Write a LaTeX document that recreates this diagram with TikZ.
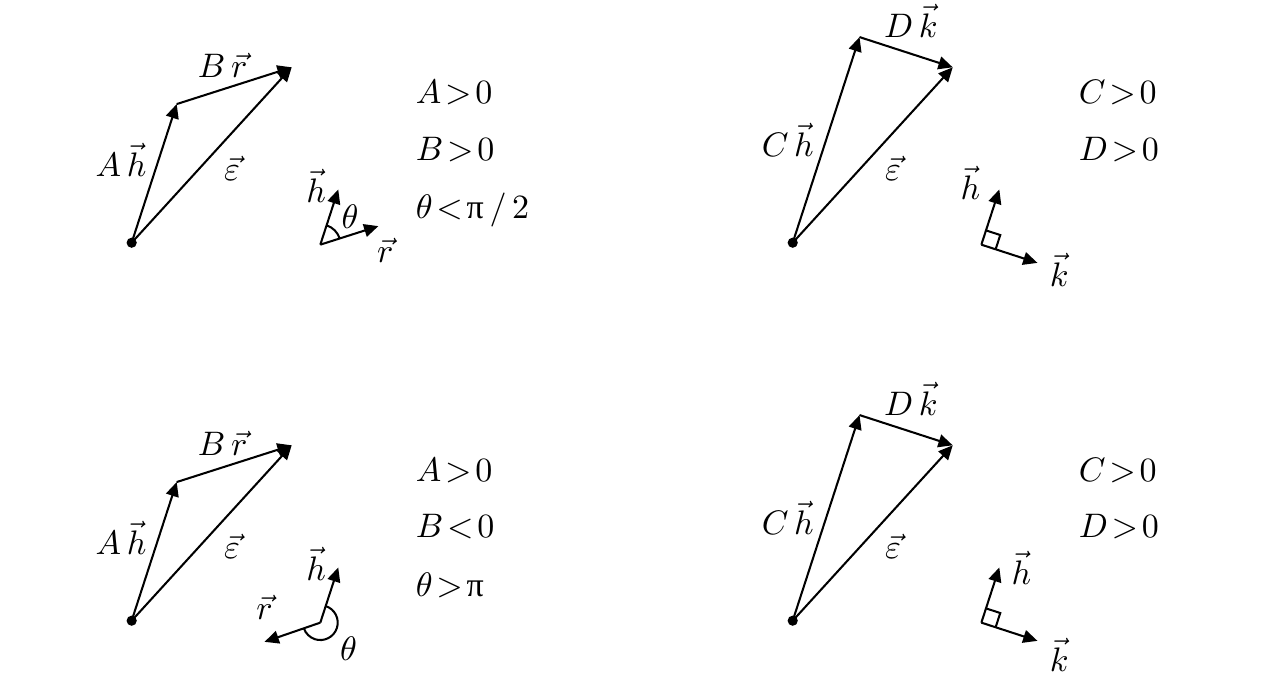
\documentclass[tikz,border=0pt]{standalone}
\usepackage{amsmath,amssymb}
\usepackage{fontspec}
\newfontfamily\uprightgreek{Liberation Serif}
\newcommand{\uppival}{\mbox{\uprightgreek π}}
\usetikzlibrary{arrows.meta}

\tikzset{
    vec/.style={line width=0.6pt, -{Triangle[length=4.2pt,width=3.8pt]}},
    plain/.style={line width=0.6pt},
    cond/.style={anchor=base west, inner sep=0pt},
}

\begin{document}
\begin{tikzpicture}
    \useasboundingbox (0,0) rectangle (13.231,6.998);

    %%%%%%%%%%%%%%%%%%%%%%%%%%%%%%%%%%%%
    % top left: A > 0, B > 0
    %%%%%%%%%%%%%%%%%%%%%%%%%%%%%%%%%%%%
    \begin{scope}[shift={(1.361,4.489)}]
        \coordinate (o1) at (0,0);
        \coordinate (p1) at (72:1.507);
        \coordinate (e1) at (1.654,1.813);
        \fill (o1) circle (1.5pt);
        \draw[vec] (o1) -- (p1) node[pos=0.6,left] {$A\,\vec{h}$};
        \draw[vec] (p1) -- (e1) node[pos=0.4,above] {$B\,\vec{r}$};
        \draw[vec] (o1) -- (e1) node[midway,right,yshift=-4pt] {$\vec{\varepsilon}$};

        \coordinate (v1) at (1.95,-0.02);
        \path (v1) ++(72:0.6) coordinate (h1);
        \path (v1) ++(17.7:0.63) coordinate (r1);
        \draw[vec] (v1) -- (h1) node[left,yshift=1pt] {$\vec{h}$};
        \draw[vec] (v1) -- (r1) node[below,xshift=2pt] {$\vec{r}$};
        \draw[plain] (v1) ++(17.7:0.21) arc[start angle=17.7,end angle=72,radius=0.21];
        \path (v1) ++(43:0.42) node (th1) {$\theta$};

        \node[cond] (c1a) at (2.93,1.444) {$A\!>\!0$};
        \node[cond] (c1b) at (2.93,0.855) {$B\!>\!0$};
        \node[cond] (c1c) at (2.93,0.255) {$\theta\!<\!\uppival\,/\,2$};
    \end{scope}

    %%%%%%%%%%%%%%%%%%%%%%%%%%%%%%%%%%%%
    % top right: C > 0, D > 0
    %%%%%%%%%%%%%%%%%%%%%%%%%%%%%%%%%%%%
    \begin{scope}[shift={(8.194,4.489)}]
        \coordinate (o2) at (0,0);
        \coordinate (p2) at (72:2.235);
        \coordinate (e2) at (1.654,1.813);
        \fill (o2) circle (1.5pt);
        \draw[vec] (o2) -- (p2) node[midway,left] {$C\,\vec{h}$};
        \draw[vec] (p2) -- (e2) node[pos=0.55,above,yshift=1pt] {$D\,\vec{k}$};
        \draw[vec] (o2) -- (e2) node[midway,right,yshift=-4pt] {$\vec{\varepsilon}$};

        \coordinate (v2) at (1.95,-0.02);
        \path (v2) ++(72:0.6) coordinate (h2);
        \path (v2) ++(-18:0.61) coordinate (k2);
        \draw[vec] (v2) -- (h2) node[left=2pt,yshift=2pt] {$\vec{h}$};
        \draw[vec] (v2) -- (k2) node[right,yshift=-2pt] {$\vec{k}$};
        \draw[plain] (v2) ++(72:0.155) -- ++(-18:0.155) -- ++(-108:0.155);

        \node[cond] (c2a) at (2.95,1.444) {$C\!>\!0$};
        \node[cond] (c2b) at (2.95,0.855) {$D\!>\!0$};
    \end{scope}

    %%%%%%%%%%%%%%%%%%%%%%%%%%%%%%%%%%%%
    % bottom left: A > 0, B < 0
    %%%%%%%%%%%%%%%%%%%%%%%%%%%%%%%%%%%%
    \begin{scope}[shift={(1.361,0.582)}]
        \coordinate (o3) at (0,0);
        \coordinate (p3) at (72:1.507);
        \coordinate (e3) at (1.654,1.813);
        \fill (o3) circle (1.5pt);
        \draw[vec] (o3) -- (p3) node[pos=0.6,left] {$A\,\vec{h}$};
        \draw[vec] (p3) -- (e3) node[pos=0.4,above] {$B\,\vec{r}$};
        \draw[vec] (o3) -- (e3) node[midway,right,yshift=-4pt] {$\vec{\varepsilon}$};

        \coordinate (v3) at (1.95,-0.02);
        \path (v3) ++(72:0.6) coordinate (h3);
        \path (v3) ++(199:0.61) coordinate (r3);
        \draw[vec] (v3) -- (h3) node[left,yshift=1pt] {$\vec{h}$};
        \draw[vec] (v3) -- (r3) node[above=3pt] {$\vec{r}$};
        \draw[plain] (v3) ++(72:0.18) arc[start angle=72,end angle=-161,radius=0.18];
        \path (v3) ++(-43:0.4) node (th3) {$\theta$};

        \node[cond] (c3a) at (2.93,1.444) {$A\!>\!0$};
        \node[cond] (c3b) at (2.93,0.855) {$B\!<\!0$};
        \node[cond] (c3c) at (2.93,0.255) {$\theta\!>\!\uppival$};
    \end{scope}

    %%%%%%%%%%%%%%%%%%%%%%%%%%%%%%%%%%%%
    % bottom right: C > 0, D > 0
    %%%%%%%%%%%%%%%%%%%%%%%%%%%%%%%%%%%%
    \begin{scope}[shift={(8.194,0.582)}]
        \coordinate (o4) at (0,0);
        \coordinate (p4) at (72:2.235);
        \coordinate (e4) at (1.654,1.813);
        \fill (o4) circle (1.5pt);
        \draw[vec] (o4) -- (p4) node[midway,left] {$C\,\vec{h}$};
        \draw[vec] (p4) -- (e4) node[pos=0.55,above,yshift=1pt] {$D\,\vec{k}$};
        \draw[vec] (o4) -- (e4) node[midway,right,yshift=-4pt] {$\vec{\varepsilon}$};

        \coordinate (v4) at (1.95,-0.02);
        \path (v4) ++(72:0.6) coordinate (h4);
        \path (v4) ++(-18:0.61) coordinate (k4);
        \draw[vec] (v4) -- (h4) node[right] {$\vec{h}$};
        \draw[vec] (v4) -- (k4) node[right,yshift=-4pt] {$\vec{k}$};
        \draw[plain] (v4) ++(72:0.155) -- ++(-18:0.155) -- ++(-108:0.155);

        \node[cond] (c4a) at (2.95,1.444) {$C\!>\!0$};
        \node[cond] (c4b) at (2.95,0.855) {$D\!>\!0$};
    \end{scope}

\end{tikzpicture}
\end{document}
